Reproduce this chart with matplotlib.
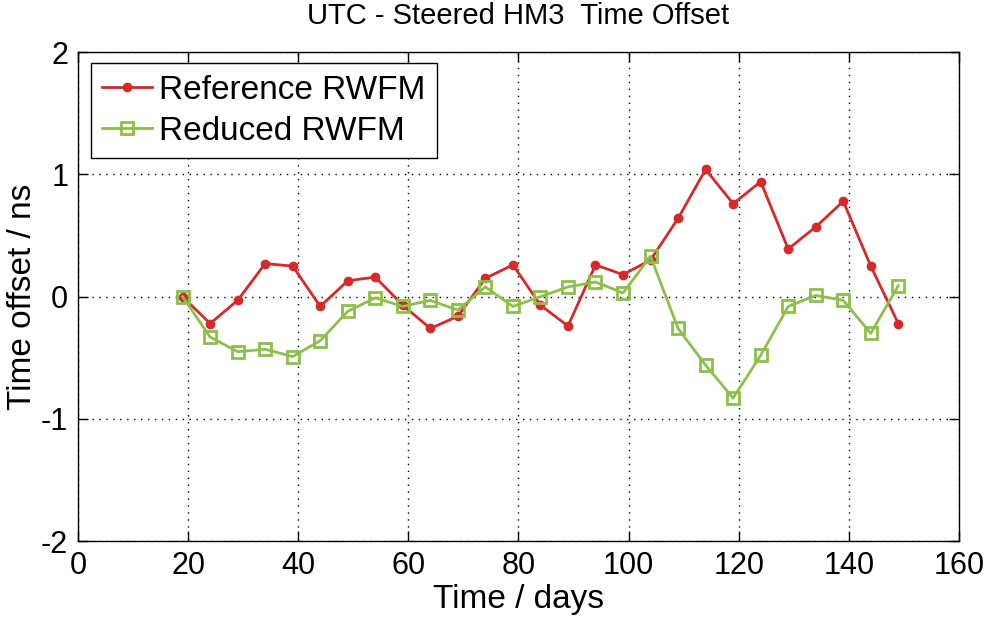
import matplotlib
matplotlib.use('Agg')
import matplotlib.pyplot as plt

# days of the measurement points
days = [19, 24, 29, 34, 39, 44, 49, 54, 59, 64, 69, 74, 79, 84, 89, 94, 99,
        104, 109, 114, 119, 124, 129, 134, 139, 144, 149]

reference_rwfm = [0.00, -0.22, -0.03, 0.27, 0.25, -0.08, 0.13, 0.16, -0.07,
                  -0.26, -0.16, 0.15, 0.26, -0.07, -0.24, 0.26, 0.18, 0.30,
                  0.64, 1.04, 0.76, 0.94, 0.39, 0.57, 0.78, 0.25, -0.22]

reduced_rwfm = [0.00, -0.33, -0.45, -0.43, -0.49, -0.36, -0.12, -0.01, -0.08,
                -0.03, -0.11, 0.08, -0.08, 0.00, 0.08, 0.12, 0.03, 0.33,
                -0.26, -0.56, -0.83, -0.48, -0.08, 0.01, -0.03, -0.30, 0.09]

x_ticks = [0, 20, 40, 60, 80, 100, 120, 140, 160]
y_ticks = [-2, -1, 0, 1, 2]

plt.rcParams['font.family'] = ['Liberation Sans', 'DejaVu Sans']
plt.rcParams['axes.unicode_minus'] = False

fig = plt.figure(figsize=(9.92, 6.2), dpi=100)
ax = fig.add_axes([0.0786, 0.127, 0.888, 0.789])

ax.plot(days, reference_rwfm, color='#d42a2a', lw=2, marker='o', ms=6,
        label='Reference RWFM')
ax.plot(days, reduced_rwfm, color='#8cc04a', lw=2, marker='s', ms=8,
        mfc='none', mew=2, label='Reduced RWFM')

ax.set_xlim(0, 160)
ax.set_ylim(-2, 2)
ax.set_xticks(x_ticks)
ax.set_yticks(y_ticks)
ax.tick_params(direction='in', top=True, right=True, labelsize=22,
               length=7, width=1, pad=7)
ax.grid(True, color='black', linestyle=(0, (1, 4)), linewidth=1)
for s in ax.spines.values():
    s.set_linewidth(1)

ax.set_xlabel('Time / days', fontsize=24, labelpad=2)
ax.set_ylabel('Time offset / ns', fontsize=24, labelpad=2)
ax.set_title('UTC - Steered HM3  Time Offset', fontsize=21, pad=20)

leg = ax.legend(loc='upper left', fontsize=24, fancybox=False, framealpha=1,
                edgecolor='black', borderpad=0.35, handlelength=1.5,
                handletextpad=0.2, labelspacing=0.3, borderaxespad=0,
                bbox_to_anchor=(0.0144, 0.978))
leg.get_frame().set_linewidth(1)

fig.savefig('out.png', dpi=100)
